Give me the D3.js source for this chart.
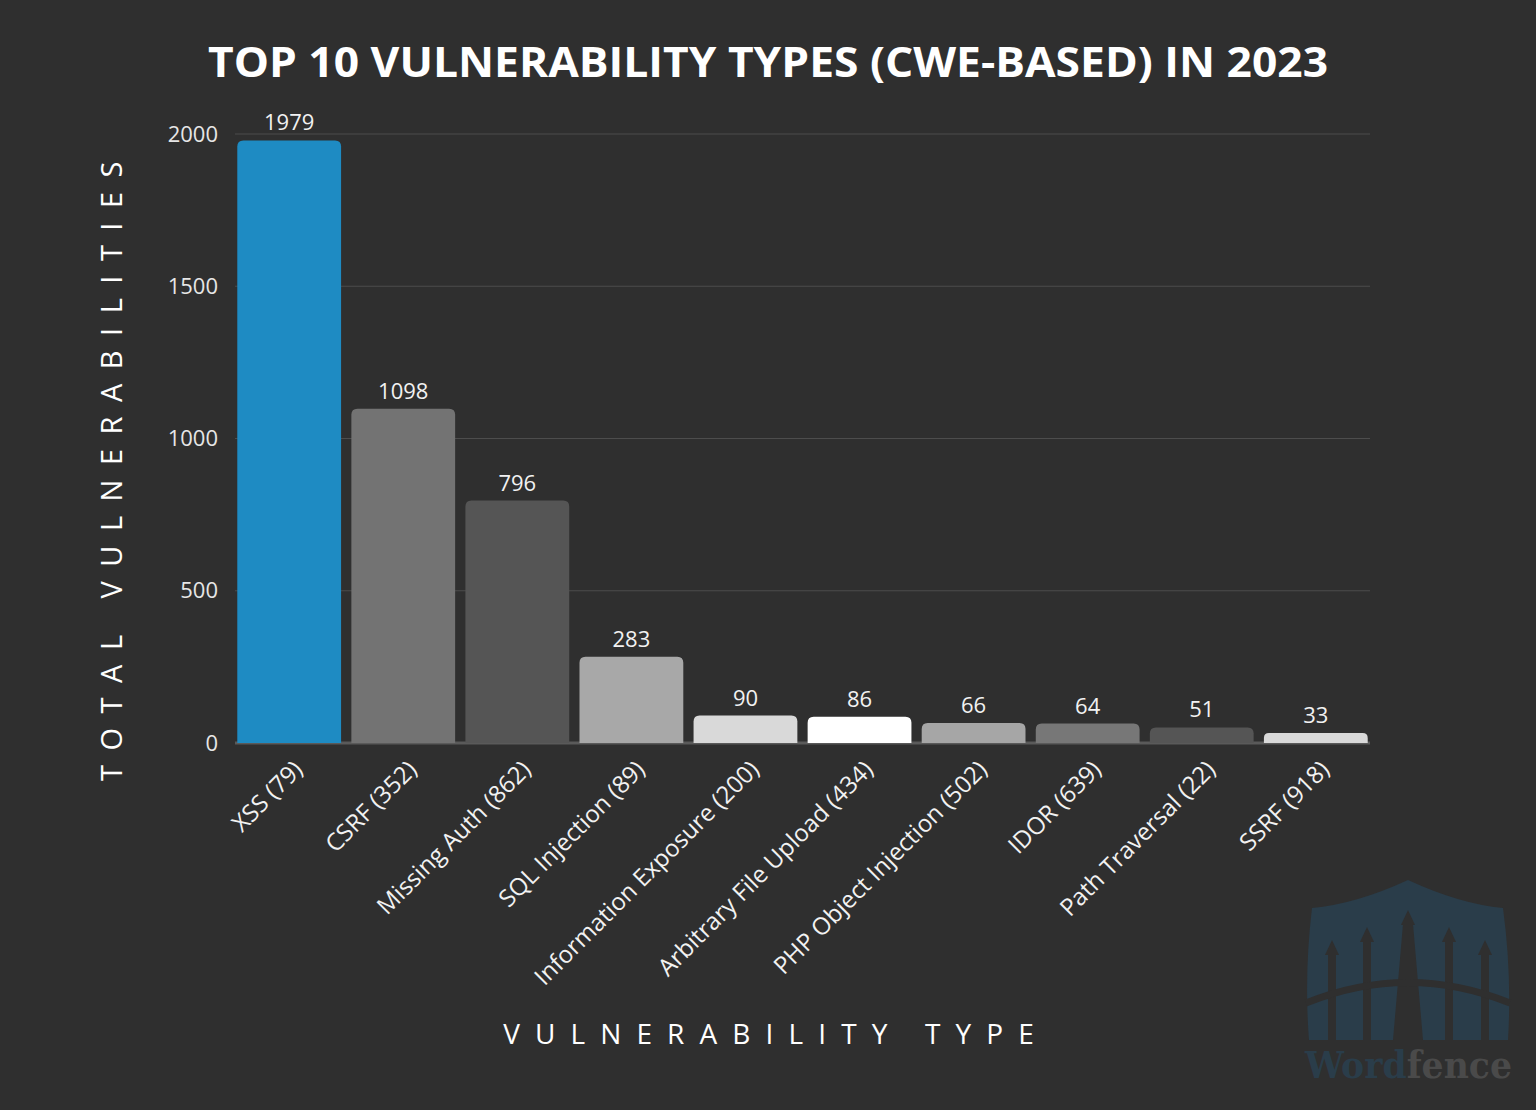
<!DOCTYPE html>
<html>
<head>
<meta charset="utf-8">
<script src="https://cdn.jsdelivr.net/npm/d3@7"></script>
<style>
  body { margin: 0; background: #2f2f2f; }
  svg { display: block; }
  text { font-family: "Open Sans", sans-serif; }
</style>
</head>
<body>
<div id="chart"></div>
<script>
// data
const categories = ["XSS (79)", "CSRF (352)", "Missing Auth (862)", "SQL Injection (89)",
  "Information Exposure (200)", "Arbitrary File Upload (434)", "PHP Object Injection (502)",
  "IDOR (639)", "Path Traversal (22)", "SSRF (918)"];
const values = [1979, 1098, 796, 283, 90, 86, 66, 64, 51, 33];
const barColors = ["#1e8bc3", "#737373", "#555555", "#a8a8a8", "#d9d9d9",
  "#ffffff", "#a6a6a6", "#777777", "#555555", "#d9d9d9"];
const yTicks = [0, 500, 1000, 1500, 2000];

var W = 1536, H = 1110;
var margin = { top: 134, right: 166, bottom: 367, left: 235 };
var width = W - margin.left - margin.right;
var height = H - margin.top - margin.bottom;

var svg = d3.select("#chart").append("svg")
  .attr("width", W).attr("height", H);

svg.append("rect").attr("width", W).attr("height", H).attr("fill", "#2f2f2f");

// watermark (Wordfence logo) bottom right
var wm = svg.append("g").attr("class", "watermark");
wm.append("path")
  .attr("d", "M1408,880 Q1460,904 1503,908 Q1512,975 1508,1040 L1309,1040 Q1304,975 1312,908 Q1356,904 1408,880 Z")
  .attr("fill", "#2a3d4a");
var picketX = [1332, 1367, 1408, 1449, 1485];
var picketTop = [940, 927, 910, 927, 940];
picketX.forEach(function (px, i) {
  var t = picketTop[i];
  var w = i === 2 ? 5 : 4;
  wm.append("path")
    .attr("d", "M" + (px - 7) + "," + (t + 15) + " L" + px + "," + t + " L" + (px + 7) + "," + (t + 15) + " Z")
    .attr("fill", "#2f2f2f");
  if (i === 2) {
    wm.append("path")
      .attr("d", "M" + (px - w) + "," + (t + 14) + " L" + (px + w) + "," + (t + 14) + " L" + (px + 15) + "," + 1040 + " L" + (px - 15) + "," + 1040 + " Z")
      .attr("fill", "#2f2f2f");
  } else {
    wm.append("rect").attr("x", px - w).attr("y", t + 14).attr("width", w * 2).attr("height", 1040 - t - 14)
      .attr("fill", "#2f2f2f");
  }
});
wm.append("path")
  .attr("d", "M1306,1003 Q1408,962 1510,1003")
  .attr("fill", "none").attr("stroke", "#2f2f2f").attr("stroke-width", 7);
var wmText = wm.append("text")
  .attr("x", 1305).attr("y", 1078)
  .attr("textLength", 207).attr("lengthAdjust", "spacingAndGlyphs")
  .style("font-family", "'DejaVu Serif', serif").style("font-weight", "bold").style("font-size", "38px");
wmText.append("tspan").attr("fill", "#2a3d4a").text("Word");
wmText.append("tspan").attr("fill", "#4a4a4a").text("fence");

var g = svg.append("g").attr("transform", "translate(" + margin.left + "," + margin.top + ")");

var x = d3.scaleBand().domain(categories).range([0, width]).paddingInner(0.09).paddingOuter(0.02);
var y = d3.scaleLinear().domain([0, 2000]).range([height, 0]);

// gridlines
g.selectAll(".grid")
  .data(yTicks)
  .enter()
  .append("line")
  .attr("x1", 0).attr("x2", width)
  .attr("y1", function (d) { return y(d); })
  .attr("y2", function (d) { return y(d); })
  .attr("stroke", function (d) { return d === 0 ? "#5a5a5a" : "#4d4d4d"; })
  .attr("stroke-width", function (d) { return d === 0 ? 3 : 1.2; });

// y axis tick labels
var yAxis = g.append("g").call(d3.axisLeft(y).tickValues(yTicks).tickFormat(d3.format("d")).tickSize(0).tickPadding(17));
yAxis.select(".domain").remove();
yAxis.selectAll("text")
  .style("font-size", "22px").style("font-family", "'Open Sans', sans-serif").attr("fill", "#e6e6e6");

// bars with rounded tops
var r = 6;
g.selectAll(".bar")
  .data(values)
  .enter()
  .append("path")
  .attr("class", "bar")
  .attr("d", function (d, i) {
    var x0 = x(categories[i]), bw = x.bandwidth(), top = y(d), bot = y(0);
    var rr = Math.min(r, (bot - top) / 2);
    return "M" + x0 + "," + bot + " L" + x0 + "," + (top + rr) +
      " Q" + x0 + "," + top + " " + (x0 + rr) + "," + top +
      " L" + (x0 + bw - rr) + "," + top +
      " Q" + (x0 + bw) + "," + top + " " + (x0 + bw) + "," + (top + rr) +
      " L" + (x0 + bw) + "," + bot + " Z";
  })
  .attr("fill", function (d, i) { return barColors[i]; });

// value labels
g.selectAll(".bar-value")
  .data(values)
  .enter()
  .append("text")
  .attr("class", "bar-value")
  .attr("text-anchor", "middle")
  .attr("x", function (d, i) { return x(categories[i]) + x.bandwidth() / 2; })
  .attr("y", function (d) { return y(d) - 10; })
  .attr("fill", "#f2f2f2")
  .style("font-size", "22px")
  .text(function (d) { return d; });

// x labels rotated
g.selectAll(".x-label")
  .data(categories)
  .enter()
  .append("text")
  .attr("class", "x-label")
  .attr("text-anchor", "end")
  .attr("fill", "#f2f2f2")
  .style("font-size", "24px")
  .attr("transform", function (d) {
    var cx = x(d) + x.bandwidth() / 2 + 9;
    return "translate(" + cx + "," + (height + 22) + ") rotate(-45)";
  })
  .attr("dy", "0.35em")
  .text(function (d) { return d; });

// title
svg.append("text")
  .attr("x", 768).attr("y", 77)
  .attr("text-anchor", "middle")
  .attr("fill", "#ffffff")
  .style("font-weight", "bold").style("font-size", "42px")
  .attr("textLength", 1120).attr("lengthAdjust", "spacingAndGlyphs")
  .text("TOP 10 VULNERABILITY TYPES (CWE-BASED) IN 2023");

// axis titles
svg.append("text")
  .attr("x", 776).attr("y", 1044)
  .attr("text-anchor", "middle")
  .attr("fill", "#ffffff")
  .style("font-size", "28px").style("letter-spacing", "0.54em")
  .text("VULNERABILITY TYPE");

svg.append("text")
  .attr("transform", "translate(122," + 464 + ") rotate(-90)")
  .attr("text-anchor", "middle")
  .attr("fill", "#ffffff")
  .style("font-size", "29px").style("letter-spacing", "0.5em")
  .text("TOTAL VULNERABILITIES");
</script>
</body>
</html>
